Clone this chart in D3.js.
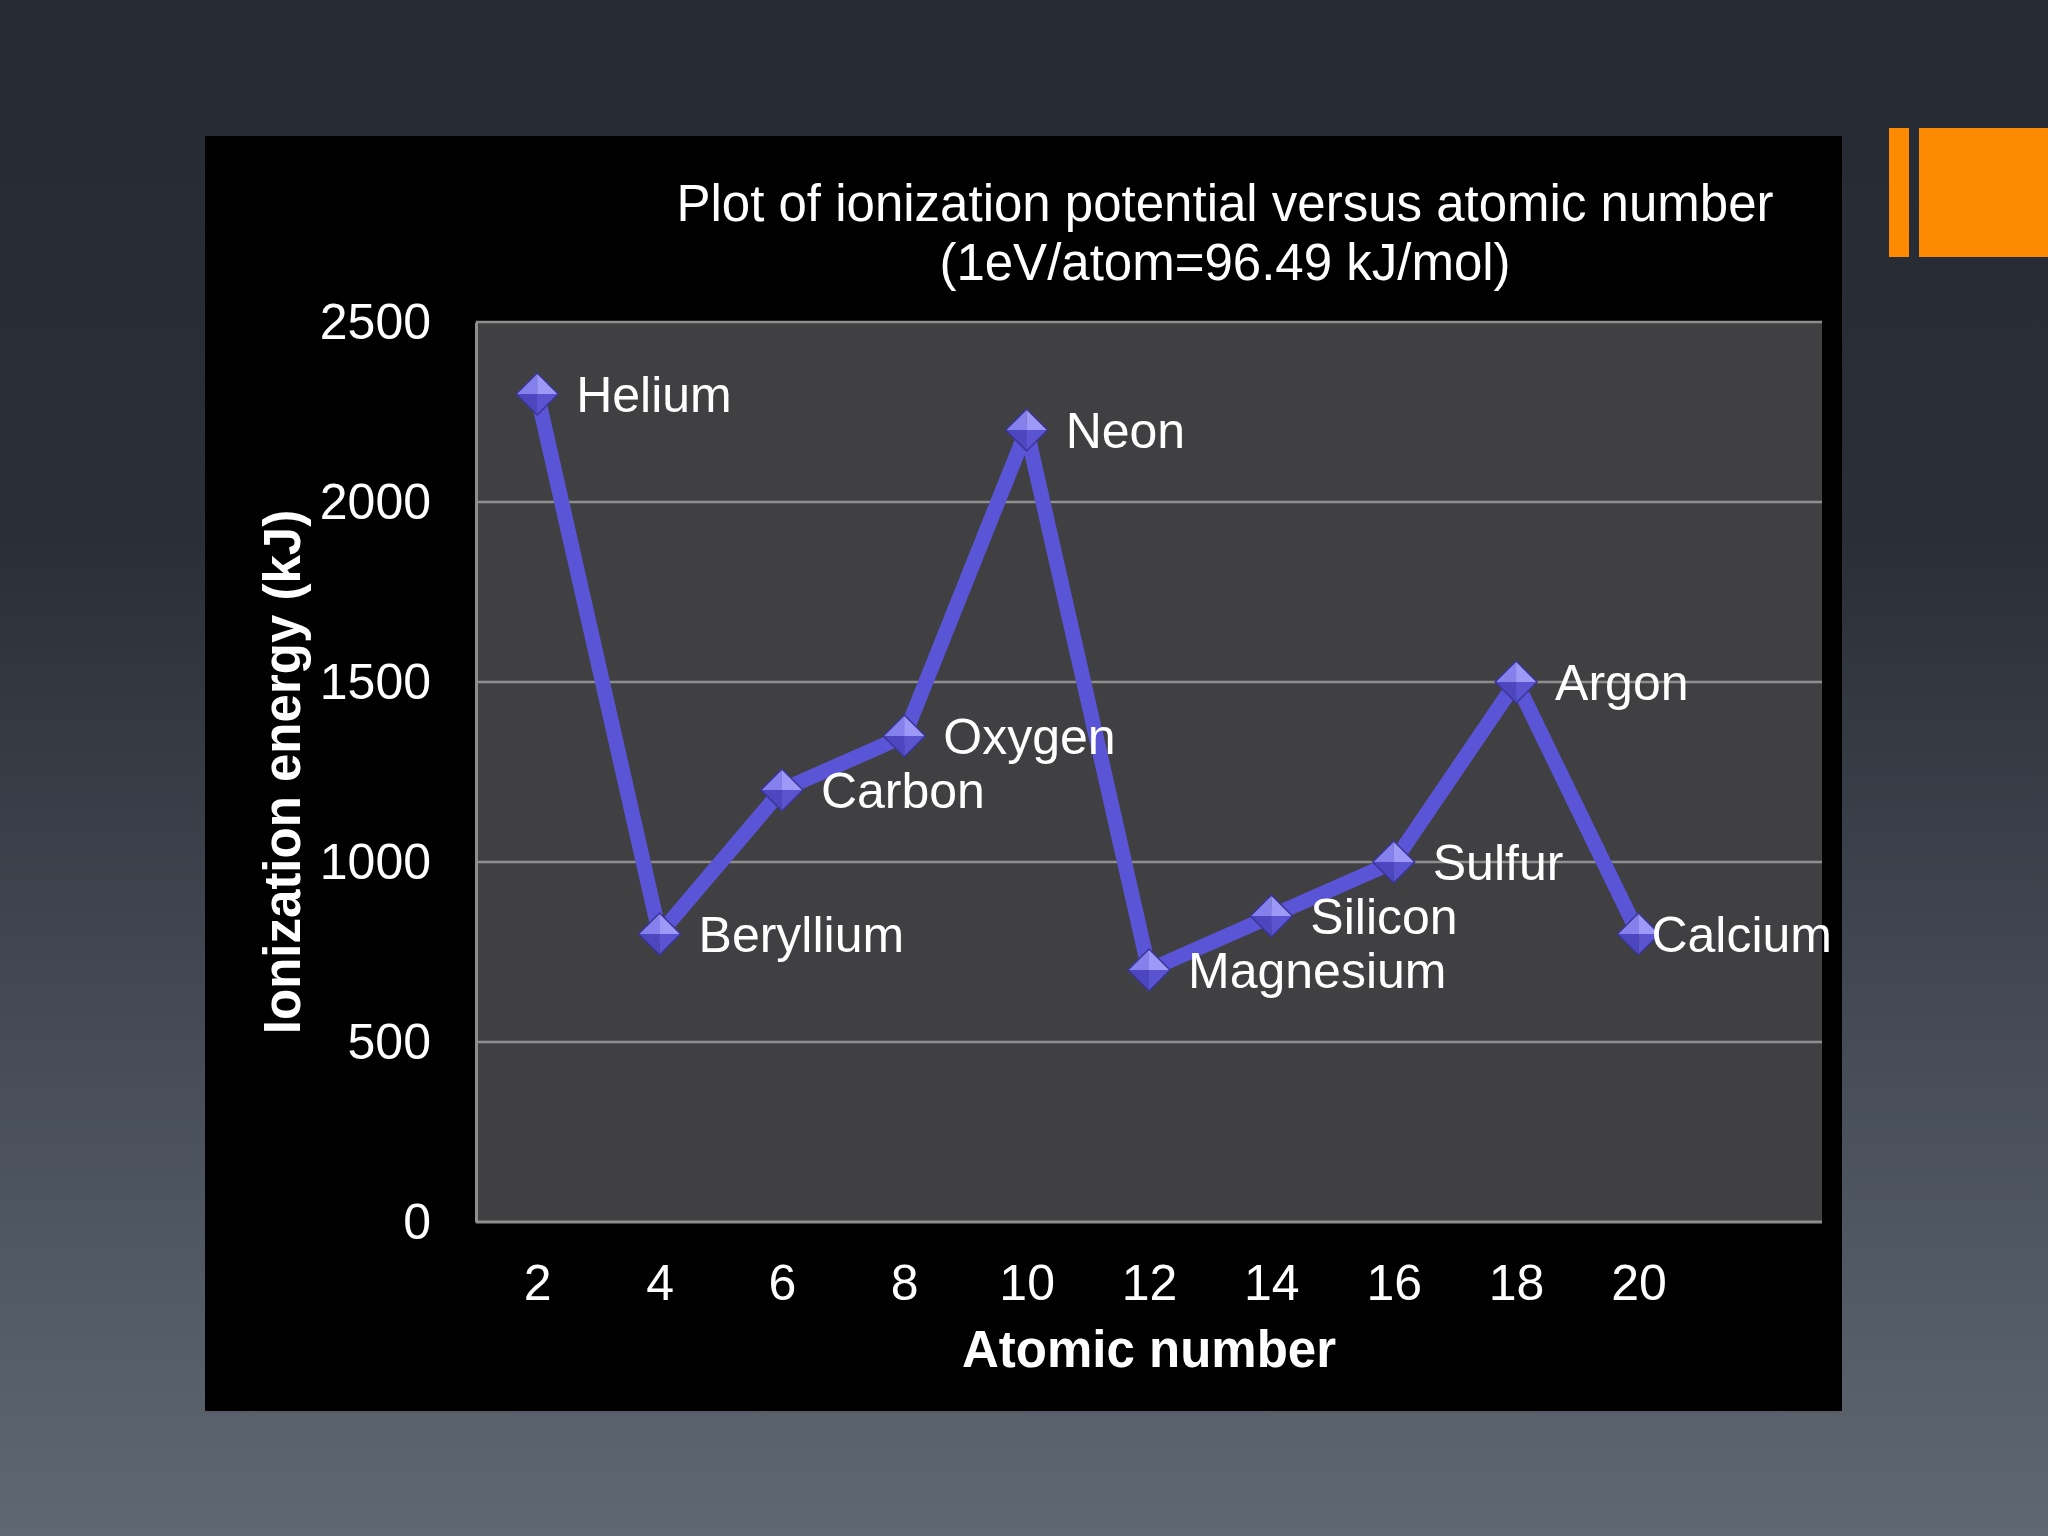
<!DOCTYPE html>
<html>
<head>
<meta charset="utf-8">
<script src="https://cdn.jsdelivr.net/npm/d3@7"></script>
<style>
  html, body { margin: 0; padding: 0; background: #262a33; }
  svg { display: block; }
  text { font-family: "Liberation Sans", Arial, sans-serif; fill: #ffffff; }
</style>
</head>
<body>
<svg id="chart" width="2048" height="1536"></svg>
<script>
// ---- Data ----
const atomicNumbers = [2, 4, 6, 8, 10, 12, 14, 16, 18, 20];
const energies = [2300, 800, 1200, 1350, 2200, 700, 850, 1000, 1500, 800];
const elements = ["Helium", "Beryllium", "Carbon", "Oxygen", "Neon", "Magnesium", "Silicon", "Sulfur", "Argon", "Calcium"];
const yTicks = [0, 500, 1000, 1500, 2000, 2500];
const titleLines = ["Plot of ionization potential versus atomic number", "(1eV/atom=96.49 kJ/mol)"];
const xTitle = "Atomic number";
const yTitle = "Ionization energy (kJ)";

const svg = d3.select("#chart");
const W = 2048, H = 1536;
const FONT = '"Liberation Sans", Arial, sans-serif';

// ---- Background ----
const defs = svg.append("defs");
const bg = defs.append("linearGradient").attr("id", "bg").attr("x1", 0).attr("y1", 0).attr("x2", 0).attr("y2", 1);
bg.append("stop").attr("offset", "0%").attr("stop-color", "#262a33");
bg.append("stop").attr("offset", "35%").attr("stop-color", "#2a2f37");
bg.append("stop").attr("offset", "100%").attr("stop-color", "#5f6872");
svg.append("rect").attr("width", W).attr("height", H).attr("fill", "url(#bg)");

// Orange decoration
svg.append("rect").attr("x", 1889).attr("y", 128).attr("width", 20).attr("height", 129).attr("fill", "#fd8a00");
svg.append("rect").attr("x", 1919).attr("y", 128).attr("width", 129).attr("height", 129).attr("fill", "#fd8a00");

// Black panel
svg.append("rect").attr("x", 205).attr("y", 137).attr("width", 1637).attr("height", 1276).attr("fill", "#5a5b68");
svg.append("rect").attr("x", 205).attr("y", 136).attr("width", 1637).attr("height", 1275).attr("fill", "#000000");

// ---- Plot area ----
const plot = { left: 476, top: 322, right: 1822, bottom: 1222 };
const x = d3.scaleLinear().domain([1, 23]).range([plot.left, plot.right]);
const y = d3.scaleLinear().domain([0, 2500]).range([plot.bottom, plot.top]);

svg.append("rect")
  .attr("x", plot.left).attr("y", plot.top)
  .attr("width", plot.right - plot.left).attr("height", plot.bottom - plot.top)
  .attr("fill", "#403f42");

// gridlines
svg.append("g")
  .selectAll("line").data(yTicks.filter(d => d > 0)).join("line")
  .attr("x1", plot.left).attr("x2", plot.right)
  .attr("y1", d => y(d)).attr("y2", d => y(d))
  .attr("stroke", "#8e8e8e").attr("stroke-width", 2.5);

// y axis
const yAxis = svg.append("g").attr("transform", `translate(${plot.left},0)`)
  .call(d3.axisLeft(y).tickValues(yTicks).tickSize(0).tickPadding(45).tickFormat(d3.format("d")));
yAxis.select(".domain").attr("stroke", "#8e8e8e").attr("stroke-width", 3);
yAxis.selectAll("text").style("font-size", "50px").attr("fill", "#fff").style("font-family", FONT);

// x axis
const xAxis = svg.append("g").attr("transform", `translate(0,${plot.bottom})`)
  .call(d3.axisBottom(x).tickValues(atomicNumbers).tickSize(0).tickPadding(42).tickFormat(d3.format("d")));
xAxis.select(".domain").attr("stroke", "#8e8e8e").attr("stroke-width", 3)
  .attr("d", `M${plot.left},0H${plot.right}`);
xAxis.selectAll("text").style("font-size", "50px").attr("fill", "#fff").style("font-family", FONT);

// ---- Series line ----
const pts = atomicNumbers.map((n, i) => ({ n, v: energies[i], name: elements[i] }));
svg.append("path")
  .datum(pts)
  .attr("d", d3.line().x(d => x(d.n)).y(d => y(d.v)))
  .attr("fill", "none")
  .attr("stroke", "#5a55d6")
  .attr("stroke-width", 15)
  .attr("stroke-linejoin", "round");

// ---- Markers (bevelled diamonds) ----
const r = 21;
const facets = [
  { pts: [[0, 0], [-r, 0], [0, -r]], fill: "#8581ec" },
  { pts: [[0, 0], [0, -r], [r, 0]], fill: "#9d99f6" },
  { pts: [[0, 0], [r, 0], [0, r]], fill: "#5a54d0" },
  { pts: [[0, 0], [0, r], [-r, 0]], fill: "#4c47be" }
];
const mk = svg.append("g").selectAll("g").data(pts).join("g")
  .attr("transform", d => `translate(${x(d.n)},${y(d.v)})`);
facets.forEach(f => {
  mk.append("path").attr("d", "M" + f.pts.map(p => p.join(",")).join("L") + "Z").attr("fill", f.fill);
});
mk.append("path")
  .attr("d", `M${-r},0L0,${-r}L${r},0L0,${r}Z`)
  .attr("fill", "none").attr("stroke", "#3a3598").attr("stroke-width", 1.5);

// ---- Data labels ----
const labels = svg.append("g").selectAll("text").data(pts).join("text")
  .attr("x", d => x(d.n) + 39)
  .attr("y", d => y(d.v))
  .attr("dy", "0.36em")
  .style("font-size", "50px")
  .text(d => d.name);
labels.each(function(d) {
  const len = this.getComputedTextLength();
  const maxRight = plot.right + 10;
  const x0 = x(d.n) + 39;
  if (x0 + len > maxRight) d3.select(this).attr("x", maxRight - len);
});

// ---- Titles ----
const tcx = 1225;
svg.append("text").attr("x", tcx).attr("y", 221).attr("text-anchor", "middle")
  .style("font-size", "51px").text(titleLines[0]);
svg.append("text").attr("x", tcx).attr("y", 280).attr("text-anchor", "middle")
  .style("font-size", "51px").text(titleLines[1]);

svg.append("text")
  .attr("x", (plot.left + plot.right) / 2).attr("y", 1367)
  .attr("text-anchor", "middle")
  .style("font-size", "51px").style("font-weight", "bold")
  .text(xTitle);

svg.append("text")
  .attr("transform", `translate(300,${(plot.top + plot.bottom) / 2}) rotate(-90)`)
  .attr("text-anchor", "middle")
  .style("font-size", "51px").style("font-weight", "bold")
  .text(yTitle);
</script>
</body>
</html>
